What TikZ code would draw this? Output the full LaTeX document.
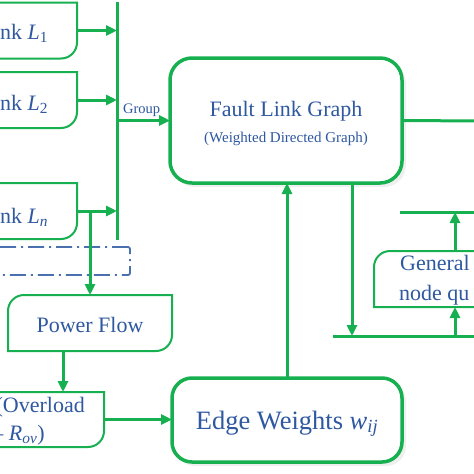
\documentclass[tikz,border=0pt]{standalone}
\usepackage{fontspec}
\setmainfont{Liberation Serif}
\usetikzlibrary{arrows.meta}
\definecolor{gr}{RGB}{22,176,80}
\definecolor{tb}{RGB}{46,88,160}
\definecolor{dd}{RGB}{75,112,175}
\begin{document}
\begin{tikzpicture}[x=1pt,y=-1pt,
  box/.style={draw=none,rectangle,inner sep=0pt,outer sep=0pt},
  outl/.style={draw=gr,line width=2pt},
  bigbox/.style={draw=gr,line width=3.5pt,rounded corners=22pt,fill=white,inner sep=0pt,outer sep=0pt},
  conn/.style={draw=gr,line width=3pt},
  arr/.style={conn,-{Triangle[length=11pt,width=10pt]}},
  txt/.style={text=tb,font=\fontsize{22}{26}\selectfont,inner sep=0pt},
  ]
\useasboundingbox (0,0) rectangle (474,474);
\clip (0,0) rectangle (474,474);
\fill[white] (0,0) rectangle (474,474);

% coordinates
\coordinate (busT) at (117,2);
\coordinate (busB) at (117,240);
\coordinate (br) at (90,212);
\coordinate (pfx) at (63,0);
\coordinate (d1) at (352,336);
\coordinate (hb1) at (333,336);
\coordinate (hb2) at (480,336);
\coordinate (ht1) at (400,212);
\coordinate (ht2) at (480,212);
\coordinate (gx) at (455,0);
\coordinate (fr) at (480,121);

% link boxes
\node[box,minimum width=117pt,minimum height=56pt] (L1) at (18.5,30.5) {};
\node[box,minimum width=117pt,minimum height=56pt] (L2) at (18.5,100) {};
\node[box,minimum width=117pt,minimum height=56pt] (Ln) at (18.5,211) {};
\foreach \b in {L1,L2,Ln}{
  \draw[outl] (\b.north west) -- (\b.north east) [rounded corners=16pt] -- (\b.south east) [sharp corners] -- (\b.south west);
}
\node[txt,anchor=base west] (t1) at (0,39) {nk \textit{L}\textsubscript{1}};
\node[txt,anchor=base west] (t2) at (0,110) {nk \textit{L}\textsubscript{2}};
\node[txt,anchor=base west] (tn) at (0,223) {nk \textit{L}\textsubscript{\textit{n}}};

% dash-dot box
\node[draw=dd,line width=1.8pt,dash pattern=on 16pt off 5pt on 2pt off 5pt,rounded corners=2pt,
  minimum width=160pt,minimum height=28pt,inner sep=0pt] (DD) at (50,261) {};

% bus
\draw[conn] (busT) -- (busB);
\draw[arr] (L1.east) -- (L1.east -| busT);
\draw[arr] (L2.east) -- (L2.east -| busT);
\draw[arr] (Ln.east) -- (Ln.east -| busT);

% power flow
\node[box,minimum width=164pt,minimum height=56pt] (PF) at (90,323) {};
\draw[outl] (PF.north east) [rounded corners=16pt] -- (PF.north west) [sharp corners] -- (PF.south west) [rounded corners=16pt] -- (PF.south east) [sharp corners] -- cycle;
\node[txt,anchor=base] (tpf) at (90,332) {Power Flow};
\draw[arr] (br) -- (PF.north);

% overload
\node[box,minimum width=144pt,minimum height=55pt] (OV) at (32,419.5) {};
\draw[outl] (OV.north west) -- (OV.north east) [rounded corners=16pt] -- (OV.south east) [sharp corners] -- (OV.south west);
\node[txt,anchor=base east] (to1) at (85,412) {(Overload};
\node[txt,anchor=base east] (to2) at (45,440) {– \textit{R}\textsubscript{\textit{ov}})};
\draw[arr] (PF.south -| pfx) -- (OV.north -| pfx);

% big boxes
\fill[black!10,opacity=0.6,rounded corners=22pt] (173,62) rectangle (406,187);
\node[bigbox,minimum width=232pt,minimum height=125pt] (FLG) at (286,120.5) {};
\node[txt,anchor=base] (tf1) at (286,116) {Fault Link Graph};
\node[text=tb,font=\fontsize{15}{17}\selectfont,inner sep=0pt,anchor=base] (tf2) at (286,142) {(Weighted Directed Graph)};

\fill[black!10,opacity=0.6,rounded corners=20pt] (175,382) rectangle (406,466);
\node[bigbox,rounded corners=20pt,minimum width=230pt,minimum height=84pt] (EW) at (287,420) {};
\node[text=tb,font=\fontsize{26.5}{30}\selectfont,inner sep=0pt,anchor=base] (tew) at (287,429) {Edge Weights \textit{w}\textsubscript{\textit{ij}}};

\node[text=tb,font=\fontsize{14.5}{16}\selectfont,inner sep=0pt,anchor=base west] (tg) at (123,113) {Group};
\draw[arr] (FLG.west -| busT) -- (FLG.west);
\draw[arr] (OV.east) -- (OV.east -| EW.west);
\draw[arr] (EW.north) -- (EW.north |- FLG.south);
\draw[conn] (FLG.east) -- (fr);
\draw[arr] (FLG.south -| d1) -- (d1);
\draw[conn] (hb1) -- (hb2);
\draw[conn] (ht1) -- (ht2);

% general box
\node[box,minimum width=126pt,minimum height=56pt] (Gen) at (437,279) {};
\draw[outl] (Gen.north east) [rounded corners=16pt] -- (Gen.north west) [sharp corners] -- (Gen.south west) -- (Gen.south east);
\node[txt,anchor=base west] (tg1) at (400,270) {General};
\node[txt,anchor=base west] (tg2) at (399,300) {node qu};
\draw[arr] (Gen.north -| gx) -- (ht1 -| gx);
\draw[arr] (hb1 -| gx) -- (Gen.south -| gx);
\end{tikzpicture}
\end{document}
